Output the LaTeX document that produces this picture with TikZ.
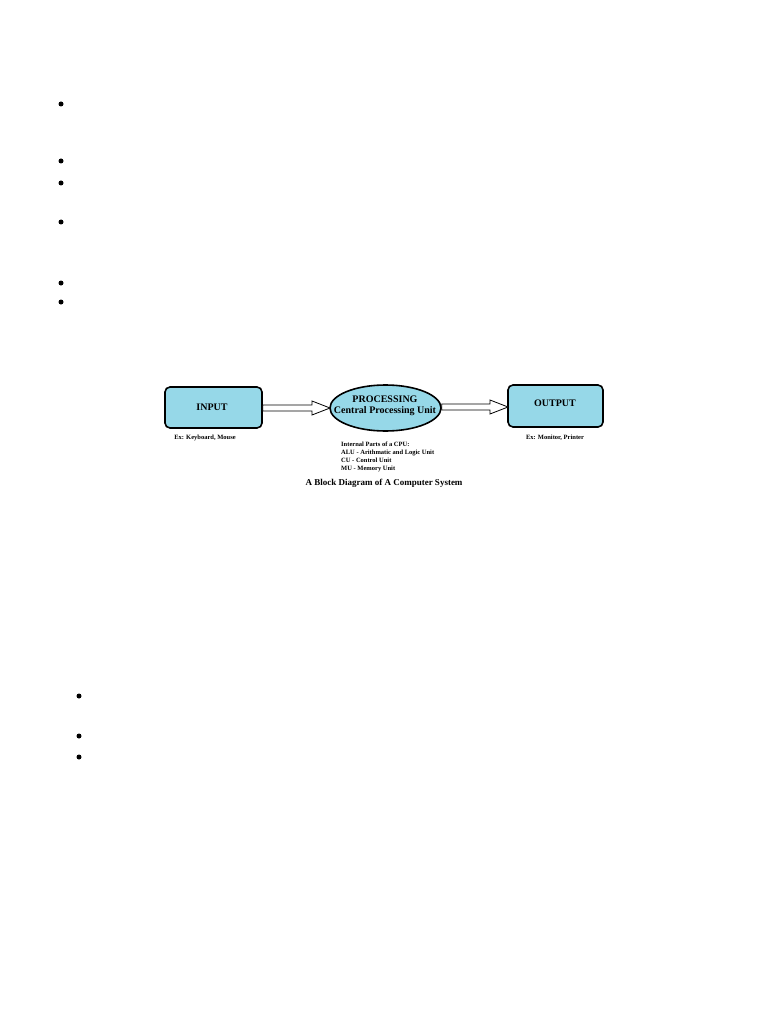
\documentclass[tikz,border=0pt]{standalone}
\usepackage{fontspec}
\setmainfont{Liberation Serif}
\usetikzlibrary{shapes.geometric}
\begin{document}
\begin{tikzpicture}[x=1pt,y=-1pt,
  blk/.style={draw,line width=1.6pt,rounded corners=5pt,fill=boxc},
  small/.style={font=\bfseries\fontsize{6.5}{8}\selectfont,align=left},
  big/.style={font=\bfseries\fontsize{10}{11}\selectfont},
  dot/.style={fill=black,circle,inner sep=0pt,minimum size=5pt}]
\definecolor{boxc}{RGB}{150,216,232}
\useasboundingbox (0,0) rectangle (768,1024);
\foreach \y in {104,161,183,222,283,302} \node[dot] at (61,\y) {};
\foreach \y in {696,736,757} \node[dot] at (79,\y) {};
\node[blk,minimum width=97pt,minimum height=41pt] (in) at (213.5,407.5) {};
\node[big] at (212,407) {INPUT};
\node[draw,line width=1.6pt,ellipse,fill=boxc,minimum width=111pt,minimum height=46pt,inner sep=0pt] (proc) at (385.5,408) {};
\node[big,align=center] at (385,406) {PROCESSING\\Central Processing Unit};
\node[blk,minimum width=95pt,minimum height=42pt] (out) at (555.5,406) {};
\node[big] at (555,403) {OUTPUT};
\draw[line width=0.8pt,fill=white] (in.east|-0,405) -- (312,405) -- (312,401) -- (330,408) -- (312,415) -- (312,411) -- (in.east|-0,411) -- cycle;
\draw[line width=0.8pt,fill=white] (proc.east|-0,404) -- (490,404) -- (490,400) -- (508,407) -- (490,414) -- (490,410) -- (proc.east|-0,410) -- cycle;
\node[small] (l1) at (205,438) {Ex: Keyboard, Mouse};
\node[small] (l2) at (555,438) {Ex: Monitor, Printer};
\node[small,anchor=north west,inner sep=0pt] (l3) at (341,442) {Internal Parts of a CPU:\\ALU - Arithmatic and Logic Unit\\CU - Control Unit\\MU - Memory Unit};
\node[font=\bfseries\fontsize{9}{10}\selectfont] (cap) at (384,483) {A Block Diagram of A Computer System};
\end{tikzpicture}
\end{document}
